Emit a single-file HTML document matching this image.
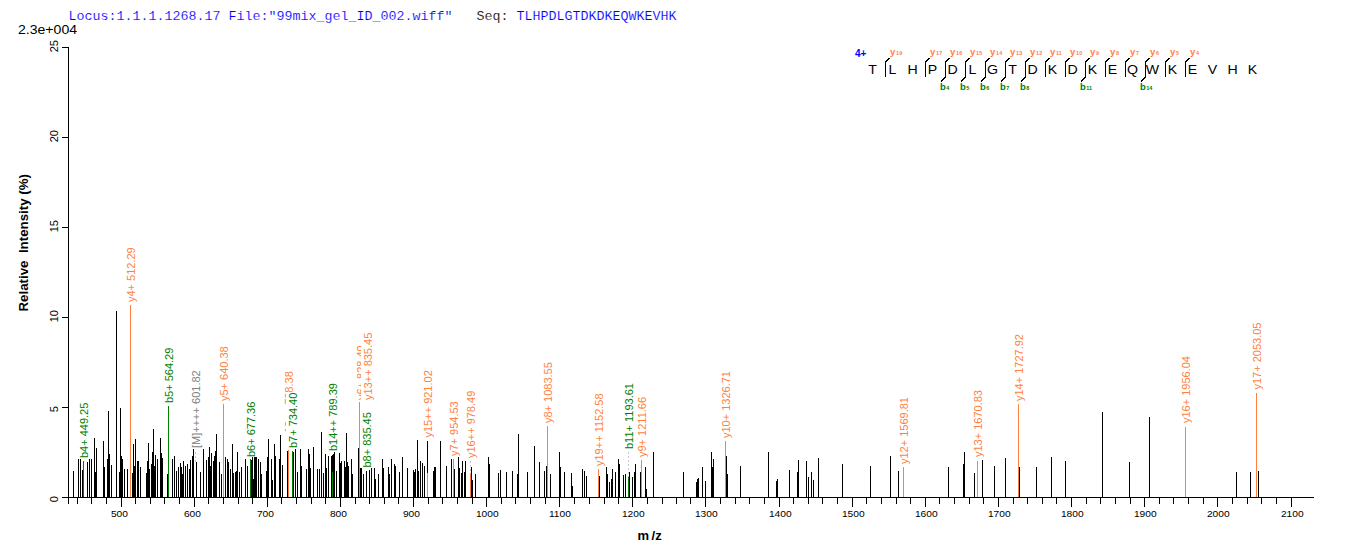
<!DOCTYPE html><html><head><meta charset="utf-8"><style>html,body{margin:0;padding:0;background:#fff;width:1362px;height:557px;overflow:hidden}svg{display:block}text{font-family:"Liberation Sans",sans-serif}</style></head><body>
<svg width="1362" height="557" viewBox="0 0 1362 557">
<rect width="1362" height="557" fill="#fff"/>
<text x="68.5" y="20" style="font-family:'Liberation Mono',monospace;font-size:13.33px" fill="#0000FF" stroke="#fff" stroke-width="0.15" xml:space="preserve">Locus:1.1.1.1268.17 File:"99mix_gel_ID_002.wiff"   <tspan fill="#000">Seq:</tspan> TLHPDLGTDKDKEQWKEVHK</text>
<text transform="translate(18,34) scale(1.1,1)" font-size="12.8" fill="#000">2.3e+004</text>
<g shape-rendering="crispEdges"><rect x="68" y="47" width="1" height="451" fill="#000"/><rect x="62" y="497" width="1252" height="1" fill="#000"/><rect x="62" y="47" width="6" height="1" fill="#000"/><rect x="62" y="137" width="6" height="1" fill="#000"/><rect x="62" y="227" width="6" height="1" fill="#000"/><rect x="62" y="317" width="6" height="1" fill="#000"/><rect x="62" y="407" width="6" height="1" fill="#000"/><rect x="62" y="497" width="6" height="1" fill="#000"/></g>
<text transform="translate(58.3,52.3) rotate(-90)" font-size="11" fill="#000">25</text>
<text transform="translate(58.3,142.3) rotate(-90)" font-size="11" fill="#000">20</text>
<text transform="translate(58.3,232.3) rotate(-90)" font-size="11" fill="#000">15</text>
<text transform="translate(58.3,322.3) rotate(-90)" font-size="11" fill="#000">10</text>
<text transform="translate(58.3,412.3) rotate(-90)" font-size="11" fill="#000">5</text>
<text transform="translate(58.3,502.3) rotate(-90)" font-size="11" fill="#000">0</text>
<text transform="translate(28,311.5) rotate(-90)" font-size="13.3" font-weight="bold" fill="#000" xml:space="preserve">Relative  Intensity (%)</text>
<g shape-rendering="crispEdges"><rect x="68" y="497" width="1" height="7" fill="#000"/><rect x="77" y="497" width="1" height="7" fill="#000"/><rect x="91" y="497" width="1" height="7" fill="#000"/><rect x="106" y="497" width="1" height="7" fill="#000"/><rect x="121" y="497" width="1" height="10" fill="#000"/><rect x="135" y="497" width="1" height="7" fill="#000"/><rect x="150" y="497" width="1" height="7" fill="#000"/><rect x="164" y="497" width="1" height="7" fill="#000"/><rect x="179" y="497" width="1" height="7" fill="#000"/><rect x="194" y="497" width="1" height="10" fill="#000"/><rect x="208" y="497" width="1" height="7" fill="#000"/><rect x="223" y="497" width="1" height="7" fill="#000"/><rect x="238" y="497" width="1" height="7" fill="#000"/><rect x="252" y="497" width="1" height="7" fill="#000"/><rect x="267" y="497" width="1" height="10" fill="#000"/><rect x="281" y="497" width="1" height="7" fill="#000"/><rect x="296" y="497" width="1" height="7" fill="#000"/><rect x="311" y="497" width="1" height="7" fill="#000"/><rect x="325" y="497" width="1" height="7" fill="#000"/><rect x="340" y="497" width="1" height="10" fill="#000"/><rect x="355" y="497" width="1" height="7" fill="#000"/><rect x="369" y="497" width="1" height="7" fill="#000"/><rect x="384" y="497" width="1" height="7" fill="#000"/><rect x="398" y="497" width="1" height="7" fill="#000"/><rect x="413" y="497" width="1" height="10" fill="#000"/><rect x="428" y="497" width="1" height="7" fill="#000"/><rect x="442" y="497" width="1" height="7" fill="#000"/><rect x="457" y="497" width="1" height="7" fill="#000"/><rect x="472" y="497" width="1" height="7" fill="#000"/><rect x="486" y="497" width="1" height="10" fill="#000"/><rect x="501" y="497" width="1" height="7" fill="#000"/><rect x="515" y="497" width="1" height="7" fill="#000"/><rect x="530" y="497" width="1" height="7" fill="#000"/><rect x="545" y="497" width="1" height="7" fill="#000"/><rect x="559" y="497" width="1" height="10" fill="#000"/><rect x="574" y="497" width="1" height="7" fill="#000"/><rect x="589" y="497" width="1" height="7" fill="#000"/><rect x="604" y="497" width="1" height="7" fill="#000"/><rect x="618" y="497" width="1" height="7" fill="#000"/><rect x="632" y="497" width="1" height="10" fill="#000"/><rect x="647" y="497" width="1" height="7" fill="#000"/><rect x="662" y="497" width="1" height="7" fill="#000"/><rect x="676" y="497" width="1" height="7" fill="#000"/><rect x="690" y="497" width="1" height="7" fill="#000"/><rect x="705" y="497" width="1" height="10" fill="#000"/><rect x="720" y="497" width="1" height="7" fill="#000"/><rect x="735" y="497" width="1" height="7" fill="#000"/><rect x="749" y="497" width="1" height="7" fill="#000"/><rect x="764" y="497" width="1" height="7" fill="#000"/><rect x="779" y="497" width="1" height="10" fill="#000"/><rect x="793" y="497" width="1" height="7" fill="#000"/><rect x="808" y="497" width="1" height="7" fill="#000"/><rect x="822" y="497" width="1" height="7" fill="#000"/><rect x="837" y="497" width="1" height="7" fill="#000"/><rect x="852" y="497" width="1" height="10" fill="#000"/><rect x="866" y="497" width="1" height="7" fill="#000"/><rect x="881" y="497" width="1" height="7" fill="#000"/><rect x="896" y="497" width="1" height="7" fill="#000"/><rect x="910" y="497" width="1" height="7" fill="#000"/><rect x="925" y="497" width="1" height="10" fill="#000"/><rect x="939" y="497" width="1" height="7" fill="#000"/><rect x="954" y="497" width="1" height="7" fill="#000"/><rect x="969" y="497" width="1" height="7" fill="#000"/><rect x="983" y="497" width="1" height="7" fill="#000"/><rect x="998" y="497" width="1" height="10" fill="#000"/><rect x="1013" y="497" width="1" height="7" fill="#000"/><rect x="1027" y="497" width="1" height="7" fill="#000"/><rect x="1042" y="497" width="1" height="7" fill="#000"/><rect x="1056" y="497" width="1" height="7" fill="#000"/><rect x="1071" y="497" width="1" height="10" fill="#000"/><rect x="1086" y="497" width="1" height="7" fill="#000"/><rect x="1100" y="497" width="1" height="7" fill="#000"/><rect x="1115" y="497" width="1" height="7" fill="#000"/><rect x="1130" y="497" width="1" height="7" fill="#000"/><rect x="1144" y="497" width="1" height="10" fill="#000"/><rect x="1159" y="497" width="1" height="7" fill="#000"/><rect x="1173" y="497" width="1" height="7" fill="#000"/><rect x="1188" y="497" width="1" height="7" fill="#000"/><rect x="1203" y="497" width="1" height="7" fill="#000"/><rect x="1217" y="497" width="1" height="10" fill="#000"/><rect x="1232" y="497" width="1" height="7" fill="#000"/><rect x="1247" y="497" width="1" height="7" fill="#000"/><rect x="1261" y="497" width="1" height="7" fill="#000"/><rect x="1276" y="497" width="1" height="7" fill="#000"/><rect x="1291" y="497" width="1" height="10" fill="#000"/></g>
<text transform="translate(110.9,517) scale(1.1,1)" font-size="9.3" fill="#000">500</text>
<text transform="translate(183.9,517) scale(1.1,1)" font-size="9.3" fill="#000">600</text>
<text transform="translate(256.9,517) scale(1.1,1)" font-size="9.3" fill="#000">700</text>
<text transform="translate(329.9,517) scale(1.1,1)" font-size="9.3" fill="#000">800</text>
<text transform="translate(402.9,517) scale(1.1,1)" font-size="9.3" fill="#000">900</text>
<text transform="translate(475.9,517) scale(1.1,1)" font-size="9.3" fill="#000">1000</text>
<text transform="translate(548.9,517) scale(1.1,1)" font-size="9.3" fill="#000">1100</text>
<text transform="translate(621.9,517) scale(1.1,1)" font-size="9.3" fill="#000">1200</text>
<text transform="translate(694.9,517) scale(1.1,1)" font-size="9.3" fill="#000">1300</text>
<text transform="translate(768.9,517) scale(1.1,1)" font-size="9.3" fill="#000">1400</text>
<text transform="translate(841.9,517) scale(1.1,1)" font-size="9.3" fill="#000">1500</text>
<text transform="translate(914.9,517) scale(1.1,1)" font-size="9.3" fill="#000">1600</text>
<text transform="translate(987.9,517) scale(1.1,1)" font-size="9.3" fill="#000">1700</text>
<text transform="translate(1060.9,517) scale(1.1,1)" font-size="9.3" fill="#000">1800</text>
<text transform="translate(1133.9,517) scale(1.1,1)" font-size="9.3" fill="#000">1900</text>
<text transform="translate(1206.9,517) scale(1.1,1)" font-size="9.3" fill="#000">2000</text>
<text transform="translate(1280.9,517) scale(1.1,1)" font-size="9.3" fill="#000">2100</text>
<text x="637.5" y="540" font-size="13" font-weight="bold" fill="#000">m<tspan dx="2.5">/z</tspan></text>
<g shape-rendering="crispEdges" fill="#000"><rect x="73" y="471" width="1" height="26"/><rect x="78" y="459" width="1" height="38"/><rect x="80" y="459" width="1" height="38"/><rect x="82" y="470" width="1" height="27"/><rect x="83" y="461" width="1" height="36"/><rect x="87" y="462" width="1" height="35"/><rect x="89" y="459" width="1" height="38"/><rect x="91" y="459" width="1" height="38"/><rect x="94" y="438" width="1" height="59"/><rect x="95" y="472" width="1" height="25"/><rect x="96" y="448" width="1" height="49"/><rect x="103" y="441" width="1" height="56"/><rect x="104" y="467" width="1" height="30"/><rect x="107" y="459" width="1" height="38"/><rect x="109" y="454" width="1" height="43"/><rect x="111" y="465" width="1" height="32"/><rect x="119" y="472" width="1" height="25"/><rect x="121" y="456" width="1" height="41"/><rect x="122" y="459" width="1" height="38"/><rect x="124" y="469" width="1" height="28"/><rect x="127" y="469" width="1" height="28"/><rect x="132" y="473" width="1" height="24"/><rect x="133" y="444" width="1" height="53"/><rect x="134" y="466" width="1" height="31"/><rect x="135" y="439" width="1" height="58"/><rect x="137" y="461" width="1" height="36"/><rect x="138" y="461" width="1" height="36"/><rect x="140" y="467" width="1" height="30"/><rect x="146" y="473" width="1" height="24"/><rect x="147" y="461" width="1" height="36"/><rect x="148" y="443" width="1" height="54"/><rect x="149" y="469" width="1" height="28"/><rect x="151" y="464" width="1" height="33"/><rect x="152" y="452" width="1" height="45"/><rect x="154" y="466" width="1" height="31"/><rect x="155" y="455" width="1" height="42"/><rect x="157" y="459" width="1" height="38"/><rect x="160" y="438" width="1" height="59"/><rect x="161" y="453" width="1" height="44"/><rect x="162" y="458" width="1" height="39"/><rect x="167" y="474" width="1" height="23"/><rect x="172" y="459" width="1" height="38"/><rect x="174" y="456" width="1" height="41"/><rect x="176" y="471" width="1" height="26"/><rect x="178" y="467" width="1" height="30"/><rect x="180" y="463" width="1" height="34"/><rect x="181" y="467" width="1" height="30"/><rect x="182" y="474" width="1" height="23"/><rect x="183" y="461" width="1" height="36"/><rect x="185" y="466" width="1" height="31"/><rect x="187" y="464" width="1" height="33"/><rect x="189" y="469" width="1" height="28"/><rect x="190" y="460" width="1" height="37"/><rect x="192" y="456" width="1" height="41"/><rect x="193" y="449" width="1" height="48"/><rect x="196" y="462" width="1" height="35"/><rect x="200" y="472" width="1" height="25"/><rect x="203" y="449" width="1" height="48"/><rect x="206" y="460" width="1" height="37"/><rect x="208" y="457" width="1" height="40"/><rect x="209" y="447" width="1" height="50"/><rect x="210" y="466" width="1" height="31"/><rect x="211" y="453" width="1" height="44"/><rect x="213" y="461" width="1" height="36"/><rect x="214" y="456" width="1" height="41"/><rect x="215" y="451" width="1" height="46"/><rect x="216" y="434" width="1" height="63"/><rect x="219" y="462" width="1" height="35"/><rect x="221" y="474" width="1" height="23"/><rect x="225" y="457" width="1" height="40"/><rect x="227" y="459" width="1" height="38"/><rect x="228" y="462" width="1" height="35"/><rect x="230" y="469" width="1" height="28"/><rect x="232" y="444" width="1" height="53"/><rect x="233" y="473" width="1" height="24"/><rect x="235" y="472" width="1" height="25"/><rect x="236" y="471" width="1" height="26"/><rect x="237" y="452" width="1" height="45"/><rect x="239" y="472" width="1" height="25"/><rect x="241" y="467" width="1" height="30"/><rect x="245" y="459" width="1" height="38"/><rect x="247" y="466" width="1" height="31"/><rect x="250" y="459" width="1" height="38"/><rect x="251" y="460" width="1" height="37"/><rect x="252" y="457" width="1" height="40"/><rect x="253" y="479" width="1" height="18"/><rect x="254" y="457" width="1" height="40"/><rect x="255" y="457" width="1" height="40"/><rect x="256" y="457" width="1" height="40"/><rect x="258" y="459" width="1" height="38"/><rect x="260" y="462" width="1" height="35"/><rect x="261" y="474" width="1" height="23"/><rect x="266" y="471" width="1" height="26"/><rect x="267" y="457" width="1" height="40"/><rect x="268" y="439" width="1" height="58"/><rect x="271" y="459" width="1" height="38"/><rect x="272" y="480" width="1" height="17"/><rect x="274" y="444" width="1" height="53"/><rect x="275" y="456" width="1" height="41"/><rect x="279" y="459" width="1" height="38"/><rect x="280" y="435" width="1" height="62"/><rect x="282" y="465" width="1" height="32"/><rect x="287" y="451" width="1" height="46"/><rect x="293" y="452" width="1" height="45"/><rect x="295" y="449" width="1" height="48"/><rect x="297" y="472" width="1" height="25"/><rect x="300" y="449" width="1" height="48"/><rect x="301" y="466" width="1" height="31"/><rect x="306" y="469" width="1" height="28"/><rect x="308" y="449" width="1" height="48"/><rect x="309" y="454" width="1" height="43"/><rect x="310" y="468" width="1" height="29"/><rect x="313" y="447" width="1" height="50"/><rect x="317" y="469" width="1" height="28"/><rect x="319" y="469" width="1" height="28"/><rect x="321" y="432" width="1" height="65"/><rect x="323" y="473" width="1" height="24"/><rect x="325" y="454" width="1" height="43"/><rect x="326" y="468" width="1" height="29"/><rect x="328" y="456" width="1" height="41"/><rect x="331" y="456" width="1" height="41"/><rect x="333" y="454" width="1" height="43"/><rect x="334" y="452" width="1" height="45"/><rect x="336" y="471" width="1" height="26"/><rect x="339" y="453" width="1" height="44"/><rect x="340" y="463" width="1" height="34"/><rect x="341" y="461" width="1" height="36"/><rect x="344" y="461" width="1" height="36"/><rect x="345" y="467" width="1" height="30"/><rect x="346" y="433" width="1" height="64"/><rect x="347" y="462" width="1" height="35"/><rect x="348" y="466" width="1" height="31"/><rect x="351" y="459" width="1" height="38"/><rect x="352" y="474" width="1" height="23"/><rect x="358" y="448" width="1" height="49"/><rect x="360" y="468" width="1" height="29"/><rect x="363" y="474" width="1" height="23"/><rect x="366" y="471" width="1" height="26"/><rect x="369" y="470" width="1" height="27"/><rect x="371" y="468" width="1" height="29"/><rect x="374" y="468" width="1" height="29"/><rect x="375" y="479" width="1" height="18"/><rect x="378" y="474" width="1" height="23"/><rect x="382" y="459" width="1" height="38"/><rect x="383" y="468" width="1" height="29"/><rect x="388" y="467" width="1" height="30"/><rect x="389" y="474" width="1" height="23"/><rect x="391" y="459" width="1" height="38"/><rect x="394" y="464" width="1" height="33"/><rect x="395" y="466" width="1" height="31"/><rect x="399" y="472" width="1" height="25"/><rect x="402" y="457" width="1" height="40"/><rect x="407" y="468" width="1" height="29"/><rect x="413" y="470" width="1" height="27"/><rect x="414" y="472" width="1" height="25"/><rect x="415" y="469" width="1" height="28"/><rect x="417" y="440" width="1" height="57"/><rect x="418" y="471" width="1" height="26"/><rect x="420" y="461" width="1" height="36"/><rect x="422" y="463" width="1" height="34"/><rect x="424" y="466" width="1" height="31"/><rect x="427" y="441" width="1" height="56"/><rect x="433" y="471" width="1" height="26"/><rect x="434" y="467" width="1" height="30"/><rect x="435" y="467" width="1" height="30"/><rect x="440" y="441" width="1" height="56"/><rect x="446" y="466" width="1" height="31"/><rect x="451" y="459" width="1" height="38"/><rect x="454" y="469" width="1" height="28"/><rect x="458" y="457" width="1" height="40"/><rect x="459" y="468" width="1" height="29"/><rect x="461" y="473" width="1" height="24"/><rect x="462" y="461" width="1" height="36"/><rect x="464" y="472" width="1" height="25"/><rect x="465" y="461" width="1" height="36"/><rect x="471" y="467" width="1" height="30"/><rect x="472" y="480" width="1" height="17"/><rect x="475" y="474" width="1" height="23"/><rect x="488" y="457" width="1" height="40"/><rect x="489" y="464" width="1" height="33"/><rect x="498" y="473" width="1" height="24"/><rect x="500" y="470" width="1" height="27"/><rect x="506" y="472" width="1" height="25"/><rect x="512" y="471" width="1" height="26"/><rect x="517" y="474" width="1" height="23"/><rect x="518" y="434" width="1" height="63"/><rect x="527" y="472" width="1" height="25"/><rect x="534" y="446" width="1" height="51"/><rect x="539" y="462" width="1" height="35"/><rect x="544" y="471" width="1" height="26"/><rect x="546" y="466" width="1" height="31"/><rect x="550" y="474" width="1" height="23"/><rect x="559" y="452" width="1" height="45"/><rect x="560" y="467" width="1" height="30"/><rect x="564" y="472" width="1" height="25"/><rect x="571" y="473" width="1" height="24"/><rect x="572" y="486" width="1" height="11"/><rect x="582" y="469" width="1" height="28"/><rect x="584" y="471" width="1" height="26"/><rect x="586" y="476" width="1" height="21"/><rect x="599" y="476" width="1" height="21"/><rect x="606" y="467" width="1" height="30"/><rect x="607" y="474" width="1" height="23"/><rect x="609" y="482" width="1" height="15"/><rect x="611" y="479" width="1" height="18"/><rect x="612" y="469" width="1" height="28"/><rect x="615" y="472" width="1" height="25"/><rect x="618" y="459" width="1" height="38"/><rect x="619" y="464" width="1" height="33"/><rect x="623" y="475" width="1" height="22"/><rect x="625" y="474" width="1" height="23"/><rect x="629" y="472" width="1" height="25"/><rect x="632" y="477" width="1" height="20"/><rect x="634" y="472" width="1" height="25"/><rect x="635" y="464" width="1" height="33"/><rect x="640" y="472" width="1" height="25"/><rect x="645" y="467" width="1" height="30"/><rect x="646" y="489" width="1" height="8"/><rect x="653" y="452" width="1" height="45"/><rect x="683" y="472" width="1" height="25"/><rect x="696" y="482" width="1" height="15"/><rect x="697" y="479" width="1" height="18"/><rect x="698" y="478" width="1" height="19"/><rect x="702" y="467" width="1" height="30"/><rect x="705" y="481" width="1" height="16"/><rect x="711" y="452" width="1" height="45"/><rect x="712" y="467" width="1" height="30"/><rect x="713" y="459" width="1" height="38"/><rect x="726" y="456" width="1" height="41"/><rect x="727" y="474" width="1" height="23"/><rect x="740" y="466" width="1" height="31"/><rect x="768" y="452" width="1" height="45"/><rect x="776" y="481" width="1" height="16"/><rect x="777" y="479" width="1" height="18"/><rect x="789" y="470" width="1" height="27"/><rect x="797" y="472" width="1" height="25"/><rect x="798" y="460" width="1" height="37"/><rect x="806" y="461" width="1" height="36"/><rect x="808" y="477" width="1" height="20"/><rect x="811" y="472" width="1" height="25"/><rect x="813" y="480" width="1" height="17"/><rect x="818" y="458" width="1" height="39"/><rect x="842" y="464" width="1" height="33"/><rect x="870" y="466" width="1" height="31"/><rect x="890" y="456" width="1" height="41"/><rect x="898" y="471" width="1" height="26"/><rect x="948" y="467" width="1" height="30"/><rect x="963" y="464" width="1" height="33"/><rect x="964" y="452" width="1" height="45"/><rect x="974" y="473" width="1" height="24"/><rect x="982" y="460" width="1" height="37"/><rect x="994" y="466" width="1" height="31"/><rect x="1005" y="458" width="1" height="39"/><rect x="1019" y="467" width="1" height="30"/><rect x="1036" y="467" width="1" height="30"/><rect x="1051" y="457" width="1" height="40"/><rect x="1065" y="461" width="1" height="36"/><rect x="108" y="411" width="1" height="86"/><rect x="116" y="311" width="1" height="186"/><rect x="120" y="408" width="1" height="89"/><rect x="153" y="429" width="1" height="68"/><rect x="1102" y="412" width="1" height="85"/><rect x="1129" y="462" width="1" height="35"/><rect x="1149" y="417" width="1" height="80"/><rect x="1236" y="472" width="1" height="25"/><rect x="1250" y="472" width="1" height="25"/><rect x="1258" y="471" width="1" height="26"/><rect x="361" y="468" width="1" height="29"/><rect x="332" y="455" width="1" height="42"/></g>
<g shape-rendering="crispEdges"><rect x="83" y="461" width="1" height="36" fill="#008000"/><rect x="130" y="305" width="1" height="192" fill="#FF7F40"/><rect x="168" y="406" width="1" height="91" fill="#008000"/><rect x="223" y="404" width="1" height="93" fill="#FF7F40"/><rect x="250" y="459" width="1" height="38" fill="#008000"/><rect x="288" y="450" width="1" height="47" fill="#FF7F40"/><rect x="292" y="451" width="1" height="46" fill="#008000"/><rect x="332" y="472" width="1" height="25" fill="#008000"/><rect x="359" y="402" width="1" height="95" fill="#FF7F40"/><rect x="427" y="473" width="1" height="24" fill="#FF7F40"/><rect x="453" y="459" width="1" height="38" fill="#FF7F40"/><rect x="470" y="473" width="1" height="24" fill="#FF7F40"/><rect x="547" y="426" width="1" height="71" fill="#FF7F40"/><rect x="598" y="469" width="1" height="28" fill="#FF7F40"/><rect x="628" y="477" width="1" height="20" fill="#008000"/><rect x="641" y="460" width="1" height="37" fill="#FF7F40"/><rect x="725" y="441" width="1" height="56" fill="#FF7F40"/><rect x="903" y="467" width="1" height="30" fill="#FF7F40"/><rect x="977" y="461" width="1" height="36" fill="#FF7F40"/><rect x="1018" y="404" width="1" height="93" fill="#FF7F40"/><rect x="1185" y="427" width="1" height="70" fill="#FF7F40"/><rect x="1256" y="393" width="1" height="104" fill="#FF7F40"/><line x1="195.5" y1="452" x2="195.5" y2="463" stroke="#c8c8c8" stroke-width="1" stroke-dasharray="2,2"/><line x1="628.5" y1="452" x2="628.5" y2="477" stroke="#c8c8c8" stroke-width="1" stroke-dasharray="2,2"/><line x1="470.5" y1="461" x2="470.5" y2="473" stroke="#c8c8c8" stroke-width="1" stroke-dasharray="2,2"/></g>
<g transform="translate(88.0,458) rotate(-90)"><rect x="0" y="-11" width="55.4" height="13.5" fill="#fff"/><text x="0" y="0" font-size="11" fill="#008000">b4+ 449.25</text></g>
<g transform="translate(135.0,302) rotate(-90)"><rect x="0" y="-11" width="54.7" height="13.5" fill="#fff"/><text x="0" y="0" font-size="11" fill="#FF7F40">y4+ 512.29</text></g>
<g transform="translate(173.0,403) rotate(-90)"><rect x="0" y="-11" width="55.4" height="13.5" fill="#fff"/><text x="0" y="0" font-size="11" fill="#008000">b5+ 564.29</text></g>
<g transform="translate(200.0,448) rotate(-90)"><rect x="0" y="-11" width="77.7" height="13.5" fill="#fff"/><text x="0" y="0" font-size="11" fill="#808080">[M]++++ 601.82</text></g>
<g transform="translate(228.0,401) rotate(-90)"><rect x="0" y="-11" width="54.7" height="13.5" fill="#fff"/><text x="0" y="0" font-size="11" fill="#FF7F40">y5+ 640.38</text></g>
<g transform="translate(255.0,457) rotate(-90)"><rect x="0" y="-11" width="55.4" height="13.5" fill="#fff"/><text x="0" y="0" font-size="11" fill="#008000">b6+ 677.36</text></g>
<g transform="translate(293.0,438.5) rotate(-90)"><rect x="0" y="-11" width="67.3" height="13.5" fill="#fff"/><text x="0" y="0" font-size="11" fill="#FF7F40">y12++ 728.38</text></g>
<g transform="translate(297.0,448) rotate(-90)"><rect x="0" y="-11" width="55.4" height="13.5" fill="#fff"/><text x="0" y="0" font-size="11" fill="#008000">b7+ 734.40</text></g>
<g transform="translate(337.0,451) rotate(-90)"><rect x="0" y="-11" width="67.9" height="13.5" fill="#fff"/><text x="0" y="0" font-size="11" fill="#008000">b14++ 789.39</text></g>
<g transform="translate(365.0,400) rotate(-90)"><rect x="0" y="-11" width="54.7" height="13.5" fill="#fff"/><text x="0" y="0" font-size="11" fill="#FF7F40">y6+ 828.40</text></g>
<g transform="translate(372.0,400) rotate(-90)"><rect x="0" y="-11" width="67.3" height="13.5" fill="#fff"/><text x="0" y="0" font-size="11" fill="#FF7F40">y13++ 835.45</text></g>
<g transform="translate(371.0,467.5) rotate(-90)"><rect x="0" y="-11" width="55.4" height="13.5" fill="#fff"/><text x="0" y="0" font-size="11" fill="#008000">b8+ 835.45</text></g>
<g transform="translate(432.0,437.5) rotate(-90)"><rect x="0" y="-11" width="67.3" height="13.5" fill="#fff"/><text x="0" y="0" font-size="11" fill="#FF7F40">y15++ 921.02</text></g>
<g transform="translate(458.0,456) rotate(-90)"><rect x="0" y="-11" width="54.7" height="13.5" fill="#fff"/><text x="0" y="0" font-size="11" fill="#FF7F40">y7+ 954.53</text></g>
<g transform="translate(475.0,458) rotate(-90)"><rect x="0" y="-11" width="67.3" height="13.5" fill="#fff"/><text x="0" y="0" font-size="11" fill="#FF7F40">y16++ 978.49</text></g>
<g transform="translate(552.0,423) rotate(-90)"><rect x="0" y="-11" width="60.9" height="13.5" fill="#fff"/><text x="0" y="0" font-size="11" fill="#FF7F40">y8+ 1083.55</text></g>
<g transform="translate(603.0,466) rotate(-90)"><rect x="0" y="-11" width="73.4" height="13.5" fill="#fff"/><text x="0" y="0" font-size="11" fill="#FF7F40">y19++ 1152.58</text></g>
<g transform="translate(633.0,449) rotate(-90)"><rect x="0" y="-11" width="67.6" height="13.5" fill="#fff"/><text x="0" y="0" font-size="11" fill="#008000">b11+ 1193.61</text></g>
<g transform="translate(646.0,457) rotate(-90)"><rect x="0" y="-11" width="60.9" height="13.5" fill="#fff"/><text x="0" y="0" font-size="11" fill="#FF7F40">y9+ 1211.66</text></g>
<g transform="translate(730.0,438) rotate(-90)"><rect x="0" y="-11" width="67.0" height="13.5" fill="#fff"/><text x="0" y="0" font-size="11" fill="#FF7F40">y10+ 1326.71</text></g>
<g transform="translate(908.0,464) rotate(-90)"><rect x="0" y="-11" width="67.0" height="13.5" fill="#fff"/><text x="0" y="0" font-size="11" fill="#FF7F40">y12+ 1569.81</text></g>
<g transform="translate(982.0,457) rotate(-90)"><rect x="0" y="-11" width="67.0" height="13.5" fill="#fff"/><text x="0" y="0" font-size="11" fill="#FF7F40">y13+ 1670.83</text></g>
<g transform="translate(1023.0,401) rotate(-90)"><rect x="0" y="-11" width="67.0" height="13.5" fill="#fff"/><text x="0" y="0" font-size="11" fill="#FF7F40">y14+ 1727.92</text></g>
<g transform="translate(1190.0,423) rotate(-90)"><rect x="0" y="-11" width="67.0" height="13.5" fill="#fff"/><text x="0" y="0" font-size="11" fill="#FF7F40">y16+ 1956.04</text></g>
<g transform="translate(1261.0,389.5) rotate(-90)"><rect x="0" y="-11" width="67.0" height="13.5" fill="#fff"/><text x="0" y="0" font-size="11" fill="#FF7F40">y17+ 2053.05</text></g>
<text transform="translate(872.5,74) scale(1.04,1)" font-size="13.6" text-anchor="middle" fill="#000">T</text><text transform="translate(892.5,74) scale(1.04,1)" font-size="13.6" text-anchor="middle" fill="#000">L</text><text transform="translate(912.5,74) scale(1.04,1)" font-size="13.6" text-anchor="middle" fill="#000">H</text><text transform="translate(932.5,74) scale(1.04,1)" font-size="13.6" text-anchor="middle" fill="#000">P</text><text transform="translate(952.5,74) scale(1.04,1)" font-size="13.6" text-anchor="middle" fill="#000">D</text><text transform="translate(972.5,74) scale(1.04,1)" font-size="13.6" text-anchor="middle" fill="#000">L</text><text transform="translate(992.5,74) scale(1.04,1)" font-size="13.6" text-anchor="middle" fill="#000">G</text><text transform="translate(1012.5,74) scale(1.04,1)" font-size="13.6" text-anchor="middle" fill="#000">T</text><text transform="translate(1032.5,74) scale(1.04,1)" font-size="13.6" text-anchor="middle" fill="#000">D</text><text transform="translate(1052.5,74) scale(1.04,1)" font-size="13.6" text-anchor="middle" fill="#000">K</text><text transform="translate(1072.5,74) scale(1.04,1)" font-size="13.6" text-anchor="middle" fill="#000">D</text><text transform="translate(1092.5,74) scale(1.04,1)" font-size="13.6" text-anchor="middle" fill="#000">K</text><text transform="translate(1112.5,74) scale(1.04,1)" font-size="13.6" text-anchor="middle" fill="#000">E</text><text transform="translate(1132.5,74) scale(1.04,1)" font-size="13.6" text-anchor="middle" fill="#000">Q</text><text transform="translate(1152.5,74) scale(1.04,1)" font-size="13.6" text-anchor="middle" fill="#000">W</text><text transform="translate(1172.5,74) scale(1.04,1)" font-size="13.6" text-anchor="middle" fill="#000">K</text><text transform="translate(1192.5,74) scale(1.04,1)" font-size="13.6" text-anchor="middle" fill="#000">E</text><text transform="translate(1212.5,74) scale(1.04,1)" font-size="13.6" text-anchor="middle" fill="#000">V</text><text transform="translate(1232.5,74) scale(1.04,1)" font-size="13.6" text-anchor="middle" fill="#000">H</text><text transform="translate(1252.5,74) scale(1.04,1)" font-size="13.6" text-anchor="middle" fill="#000">K</text>
<text x="855" y="57" font-size="10" font-weight="bold" fill="#0000FF">4+</text>
<path d="M889.8,57.8 L885.5,62 L885.5,77" fill="none" stroke="#000" stroke-width="1" shape-rendering="crispEdges"/><path d="M929.8,57.8 L925.5,62 L925.5,77" fill="none" stroke="#000" stroke-width="1" shape-rendering="crispEdges"/><path d="M949.8,57.8 L945.5,62 L945.5,77 L941.0,81.5" fill="none" stroke="#000" stroke-width="1" shape-rendering="crispEdges"/><path d="M969.8,57.8 L965.5,62 L965.5,77 L961.0,81.5" fill="none" stroke="#000" stroke-width="1" shape-rendering="crispEdges"/><path d="M989.8,57.8 L985.5,62 L985.5,77 L981.0,81.5" fill="none" stroke="#000" stroke-width="1" shape-rendering="crispEdges"/><path d="M1009.8,57.8 L1005.5,62 L1005.5,77 L1001.0,81.5" fill="none" stroke="#000" stroke-width="1" shape-rendering="crispEdges"/><path d="M1029.8,57.8 L1025.5,62 L1025.5,77 L1021.0,81.5" fill="none" stroke="#000" stroke-width="1" shape-rendering="crispEdges"/><path d="M1049.8,57.8 L1045.5,62 L1045.5,77" fill="none" stroke="#000" stroke-width="1" shape-rendering="crispEdges"/><path d="M1069.8,57.8 L1065.5,62 L1065.5,77" fill="none" stroke="#000" stroke-width="1" shape-rendering="crispEdges"/><path d="M1089.8,57.8 L1085.5,62 L1085.5,77 L1081.0,81.5" fill="none" stroke="#000" stroke-width="1" shape-rendering="crispEdges"/><path d="M1109.8,57.8 L1105.5,62 L1105.5,77" fill="none" stroke="#000" stroke-width="1" shape-rendering="crispEdges"/><path d="M1129.8,57.8 L1125.5,62 L1125.5,77" fill="none" stroke="#000" stroke-width="1" shape-rendering="crispEdges"/><path d="M1149.8,57.8 L1145.5,62 L1145.5,77 L1141.0,81.5" fill="none" stroke="#000" stroke-width="1" shape-rendering="crispEdges"/><path d="M1169.8,57.8 L1165.5,62 L1165.5,77" fill="none" stroke="#000" stroke-width="1" shape-rendering="crispEdges"/><path d="M1189.8,57.8 L1185.5,62 L1185.5,77" fill="none" stroke="#000" stroke-width="1" shape-rendering="crispEdges"/><text x="890.0" y="55" font-size="9.5" font-weight="bold" fill="#FF7F40">y<tspan font-size="5.5" dx="0.8">19</tspan></text><text x="930.0" y="55" font-size="9.5" font-weight="bold" fill="#FF7F40">y<tspan font-size="5.5" dx="0.8">17</tspan></text><text x="950.0" y="55" font-size="9.5" font-weight="bold" fill="#FF7F40">y<tspan font-size="5.5" dx="0.8">16</tspan></text><text x="940.0" y="90" font-size="9.5" font-weight="bold" fill="#008000">b<tspan font-size="5.5" dx="0.5">4</tspan></text><text x="970.0" y="55" font-size="9.5" font-weight="bold" fill="#FF7F40">y<tspan font-size="5.5" dx="0.8">15</tspan></text><text x="960.0" y="90" font-size="9.5" font-weight="bold" fill="#008000">b<tspan font-size="5.5" dx="0.5">5</tspan></text><text x="990.0" y="55" font-size="9.5" font-weight="bold" fill="#FF7F40">y<tspan font-size="5.5" dx="0.8">14</tspan></text><text x="980.0" y="90" font-size="9.5" font-weight="bold" fill="#008000">b<tspan font-size="5.5" dx="0.5">6</tspan></text><text x="1010.0" y="55" font-size="9.5" font-weight="bold" fill="#FF7F40">y<tspan font-size="5.5" dx="0.8">13</tspan></text><text x="1000.0" y="90" font-size="9.5" font-weight="bold" fill="#008000">b<tspan font-size="5.5" dx="0.5">7</tspan></text><text x="1030.0" y="55" font-size="9.5" font-weight="bold" fill="#FF7F40">y<tspan font-size="5.5" dx="0.8">12</tspan></text><text x="1020.0" y="90" font-size="9.5" font-weight="bold" fill="#008000">b<tspan font-size="5.5" dx="0.5">8</tspan></text><text x="1050.0" y="55" font-size="9.5" font-weight="bold" fill="#FF7F40">y<tspan font-size="5.5" dx="0.8">11</tspan></text><text x="1070.0" y="55" font-size="9.5" font-weight="bold" fill="#FF7F40">y<tspan font-size="5.5" dx="0.8">10</tspan></text><text x="1090.0" y="55" font-size="9.5" font-weight="bold" fill="#FF7F40">y<tspan font-size="5.5" dx="0.8">9</tspan></text><text x="1080.0" y="90" font-size="9.5" font-weight="bold" fill="#008000">b<tspan font-size="5.5" dx="0.5">11</tspan></text><text x="1110.0" y="55" font-size="9.5" font-weight="bold" fill="#FF7F40">y<tspan font-size="5.5" dx="0.8">8</tspan></text><text x="1130.0" y="55" font-size="9.5" font-weight="bold" fill="#FF7F40">y<tspan font-size="5.5" dx="0.8">7</tspan></text><text x="1150.0" y="55" font-size="9.5" font-weight="bold" fill="#FF7F40">y<tspan font-size="5.5" dx="0.8">6</tspan></text><text x="1140.0" y="90" font-size="9.5" font-weight="bold" fill="#008000">b<tspan font-size="5.5" dx="0.5">14</tspan></text><text x="1170.0" y="55" font-size="9.5" font-weight="bold" fill="#FF7F40">y<tspan font-size="5.5" dx="0.8">5</tspan></text><text x="1190.0" y="55" font-size="9.5" font-weight="bold" fill="#FF7F40">y<tspan font-size="5.5" dx="0.8">4</tspan></text>
</svg></body></html>
